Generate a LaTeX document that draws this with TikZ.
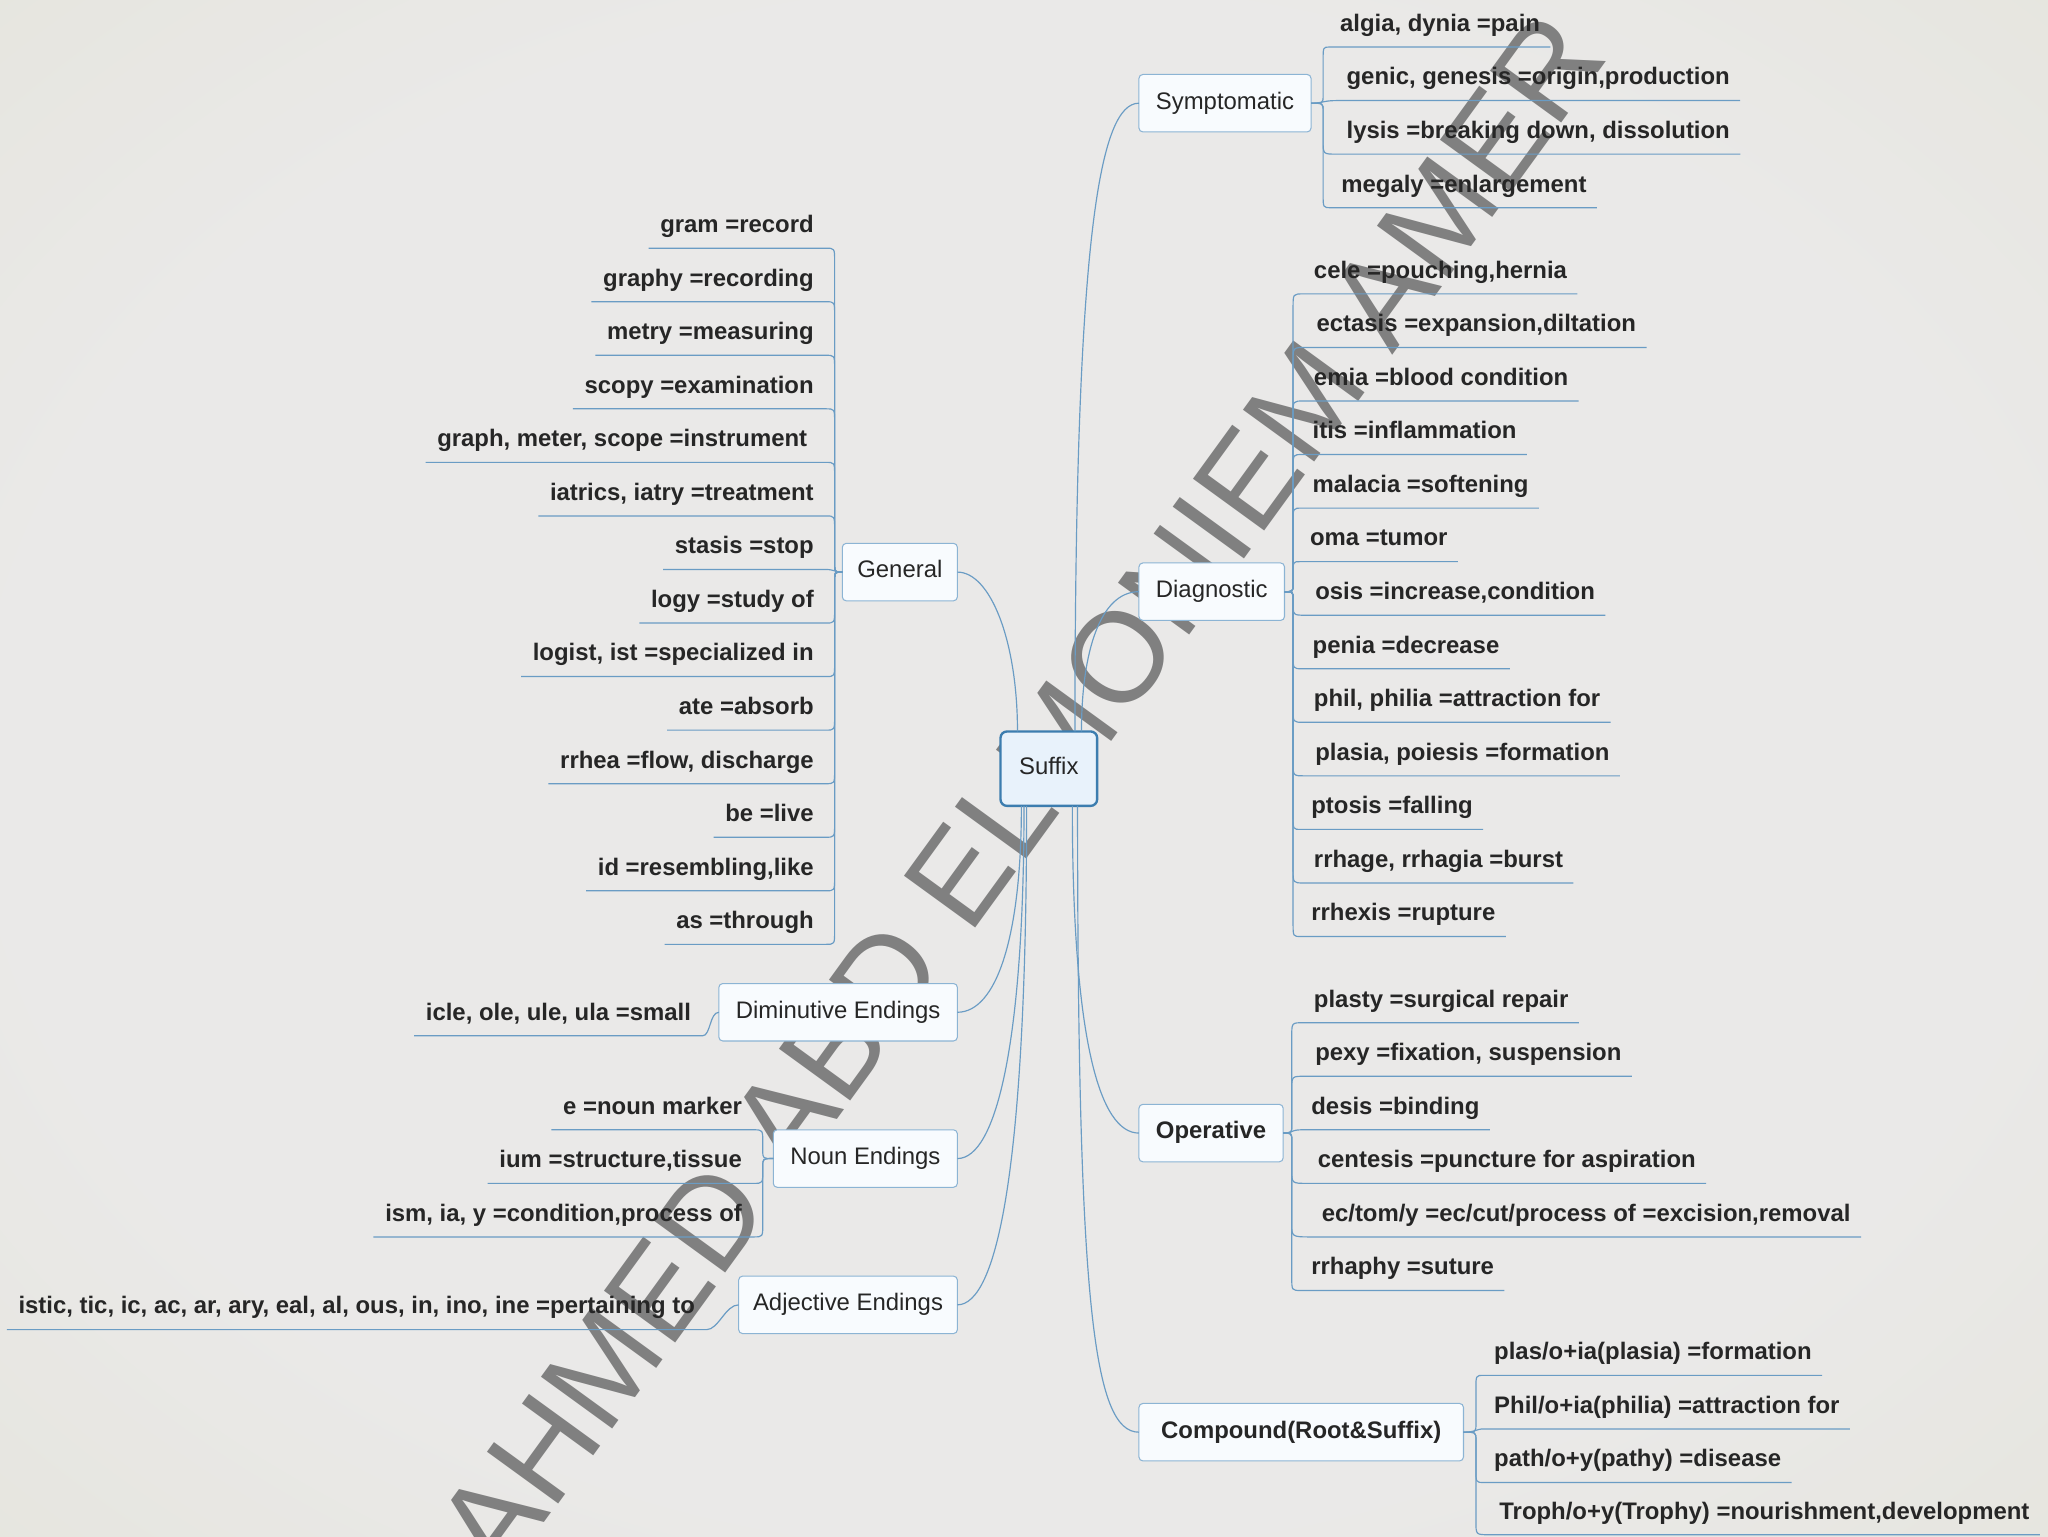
\documentclass[tikz,border=0pt]{standalone}
\usepackage{fontspec}
\setmainfont{Liberation Sans}
\usetikzlibrary{calc}
\pgfdeclarelayer{bg}
\pgfsetlayers{bg,main}
\definecolor{linecol}{RGB}{106,156,196}
\definecolor{boxline}{RGB}{140,180,212}
\definecolor{boxfill}{RGB}{248,251,254}
\definecolor{rootfill}{RGB}{232,242,251}
\definecolor{rootline}{RGB}{60,125,175}
\definecolor{txt}{RGB}{38,38,38}
\definecolor{wmcol}{RGB}{128,128,128}
\definecolor{bgc}{RGB}{234,233,232}
\definecolor{bge}{RGB}{225,225,211}
\definecolor{bgf}{RGB}{214,216,194}
\pgfdeclareradialshading{bgshade}{\pgfpoint{0bp}{0bp}}{color(0bp)=(bgc); color(25bp)=(bgc); color(50bp)=(bge); color(71bp)=(bgf)}
\newcommand\leaffont{\bfseries\fontsize{18.3}{20}\selectfont}
\newcommand\catfont{\fontsize{18.3}{20}\selectfont}
% right-side leaf link: parent, leaf, trunk coordinate, sign (1 above, -1 below)
\newcommand\rlink[4]{\draw[conn] (#1.east) .. controls (#1.east -| #3) .. ($(#1.east -| #3)+(0,{-6*(#4)})$) -- ($(#2.south west -| #3)+(0,{10*(#4)})$) .. controls (#2.south west -| #3) .. (#2.south west) -- (#2.south east);}
\newcommand\rlinkn[3]{\draw[conn] (#1.east) .. controls (#1.east -| #3) and (#2.south west -| #3) .. (#2.south west) -- (#2.south east);}
\newcommand\llink[4]{\draw[conn] (#1.west) .. controls (#1.west -| #3) .. ($(#1.west -| #3)+(0,{-6*(#4)})$) -- ($(#2.south east -| #3)+(0,{10*(#4)})$) .. controls (#2.south east -| #3) .. (#2.south east) -- (#2.south west);}
\newcommand\llinkn[3]{\draw[conn] (#1.west) .. controls (#1.west -| #3) and (#2.south east -| #3) .. (#2.south east) -- (#2.south west);}
\tikzset{
  leaf/.style={font=\leaffont, text=txt, inner xsep=8pt, inner ysep=8pt, text height=13pt, text depth=4pt, outer sep=0pt},
  leafL/.style={leaf, anchor=base east, inner xsep=9pt},
  leafR/.style={leaf, anchor=base west},
  catbox/.style={draw=boxline, fill=boxfill, rounded corners=3pt, line width=0.8pt, font=\catfont, text=txt, minimum height=44pt, inner xsep=13pt, inner ysep=0pt, text height=13pt, text depth=4pt, outer sep=0pt},
  rootbox/.style={draw=rootline, fill=rootfill, rounded corners=5pt, line width=1.8pt, font=\catfont, text=txt, minimum height=57pt, minimum width=74pt, inner sep=0pt, text height=13pt, text depth=4pt, outer sep=0pt},
  conn/.style={draw=linecol, line width=0.9pt},
  wm/.style={rotate=54, text=wmcol, font=\fontsize{98}{98}\selectfont, inner sep=0pt},
}
\begin{document}
\begin{tikzpicture}[x=1pt,y=-1pt]
\useasboundingbox (0,0) rectangle (1568,1176);
\begin{pgfonlayer}{bg}
\shade[shading=bgshade] (0,0) rectangle (1568,1176);
\node[wm] (wm) at (781,607) {AHMED ABD ELMONIEM AMER};
\end{pgfonlayer}

% root and categories
\node[rootbox] (suf) at (803,588.5) {Suffix};
\node[catbox, anchor=west] (sym) at (872,79) {Symptomatic};
\node[catbox, anchor=west] (diag) at (872,453) {Diagnostic};
\node[catbox, anchor=west, font=\catfont\bfseries] (op) at (872,867.5) {Operative};
\node[catbox, anchor=west, font=\catfont\bfseries, inner xsep=17pt] (comp) at (872,1096.5) {Compound(Root\&Suffix)};
\node[catbox, anchor=east, inner xsep=11.5pt] (gen) at (733,438) {General};
\node[catbox, anchor=east] (dim) at (733,775) {Diminutive Endings};
\node[catbox, anchor=east] (noun) at (733,887) {Noun Endings};
\node[catbox, anchor=east, inner xsep=11pt] (adj) at (733,999) {Adjective Endings};

% trunk coordinates
\coordinate (tS) at (1013,0);
\coordinate (tD) at (990,0);
\coordinate (tO) at (989,0);
\coordinate (tC) at (1130,0);
\coordinate (tG) at (639,0);
\coordinate (tN) at (584,0);

% Symptomatic leaves
\node[leafR] (s1) at (1018,24) {algia, dynia =pain};
\node[leafR] (s2) at (1023,65) {genic, genesis =origin,production};
\node[leafR] (s3) at (1023,106) {lysis =breaking down, dissolution};
\node[leafR] (s4) at (1019,147) {megaly =enlargement};

% Diagnostic leaves
\node[leafR] (d1) at (998,213) {cele =pouching,hernia};
\node[leafR] (d2) at (1000,254) {ectasis =expansion,diltation};
\node[leafR] (d3) at (998,295) {emia =blood condition};
\node[leafR] (d4) at (997,336) {itis =inflammation};
\node[leafR] (d5) at (997,377) {malacia =softening};
\node[leafR] (d6) at (995,418) {oma =tumor};
\node[leafR] (d7) at (999,459) {osis =increase,condition};
\node[leafR] (d8) at (997,500) {penia =decrease};
\node[leafR] (d9) at (998,541) {phil, philia =attraction for};
\node[leafR] (d10) at (999,582) {plasia, poiesis =formation};
\node[leafR] (d11) at (996,623) {ptosis =falling};
\node[leafR] (d12) at (998,664) {rrhage, rrhagia =burst};
\node[leafR] (d13) at (996,705) {rrhexis =rupture};

% Operative leaves
\node[leafR] (o1) at (998,771) {plasty =surgical repair};
\node[leafR] (o2) at (999,812) {pexy =fixation, suspension};
\node[leafR] (o3) at (996,853) {desis =binding};
\node[leafR] (o4) at (1001,894) {centesis =puncture for aspiration};
\node[leafR] (o5) at (1004,935) {ec/tom/y =ec/cut/process of =excision,removal};
\node[leafR] (o6) at (996,976) {rrhaphy =suture};

% Compound leaves
\node[leafR] (c1) at (1136,1041) {plas/o+ia(plasia) =formation};
\node[leafR] (c2) at (1136,1082) {Phil/o+ia(philia) =attraction for};
\node[leafR] (c3) at (1136,1123) {path/o+y(pathy) =disease};
\node[leafR] (c4) at (1140,1163) {Troph/o+y(Trophy) =nourishment,development};

% General leaves
\node[leafL] (g1) at (632,178) {gram =record};
\node[leafL] (g2) at (632,219) {graphy =recording};
\node[leafL] (g3) at (632,260) {metry =measuring};
\node[leafL] (g4) at (632,301) {scopy =examination};
\node[leafL] (g5) at (632,342) {graph, meter, scope =instrument\hspace*{5pt}};
\node[leafL] (g6) at (632,383) {iatrics, iatry =treatment};
\node[leafL] (g7) at (632,424) {stasis =stop};
\node[leafL] (g8) at (632,465) {logy =study of};
\node[leafL] (g9) at (632,506) {logist, ist =specialized in};
\node[leafL] (g10) at (632,547) {ate =absorb};
\node[leafL] (g11) at (632,588) {rrhea =flow, discharge};
\node[leafL] (g12) at (632,629) {be =live};
\node[leafL] (g13) at (632,670) {id =resembling,like};
\node[leafL] (g14) at (632,711) {as =through};

% Diminutive, Noun, Adjective leaves
\node[leafL] (m1) at (538,781) {icle, ole, ule, ula =small};
\node[leafL] (n1) at (577,853) {e =noun marker};
\node[leafL] (n2) at (577,894) {ium =structure,tissue};
\node[leafL] (n3) at (577,935) {ism, ia, y =condition,process of};
\node[leafL] (a1) at (541,1006) {istic, tic, ic, ac, ar, ary, eal, al, ous, in, ino, ine =pertaining to};

% root connectors
\draw[conn] ([xshift=20pt]suf.north) .. controls +(0,-380) and +(-30,0) .. (sym.west);
\draw[conn] ([xshift=25pt]suf.north) .. controls +(0,-60) and +(-30,0) .. (diag.west);
\draw[conn] ([xshift=18pt]suf.south) .. controls +(0,180) and +(-30,0) .. (op.west);
\draw[conn] ([xshift=22pt]suf.south) .. controls +(0,380) and +(-35,0) .. (comp.west);
\draw[conn] ([xshift=-24pt]suf.north) .. controls +(0,-70) and +(25,0) .. (gen.east);
\draw[conn] ([xshift=-21pt]suf.south) .. controls +(0,100) and +(30,0) .. (dim.east);
\draw[conn] ([xshift=-19pt]suf.south) .. controls +(0,180) and +(30,0) .. (noun.east);
\draw[conn] ([xshift=-17pt]suf.south) .. controls +(0,280) and +(30,0) .. (adj.east);

% Symptomatic links
\rlink{sym}{s1}{tS}{1}
\rlinkn{sym}{s2}{tS}
\rlink{sym}{s3}{tS}{-1}
\rlink{sym}{s4}{tS}{-1}

% Diagnostic links
\rlink{diag}{d1}{tD}{1}
\rlink{diag}{d2}{tD}{1}
\rlink{diag}{d3}{tD}{1}
\rlink{diag}{d4}{tD}{1}
\rlink{diag}{d5}{tD}{1}
\rlink{diag}{d6}{tD}{1}
\rlink{diag}{d7}{tD}{-1}
\rlink{diag}{d8}{tD}{-1}
\rlink{diag}{d9}{tD}{-1}
\rlink{diag}{d10}{tD}{-1}
\rlink{diag}{d11}{tD}{-1}
\rlink{diag}{d12}{tD}{-1}
\rlink{diag}{d13}{tD}{-1}

% Operative links
\rlink{op}{o1}{tO}{1}
\rlink{op}{o2}{tO}{1}
\rlinkn{op}{o3}{tO}
\rlink{op}{o4}{tO}{-1}
\rlink{op}{o5}{tO}{-1}
\rlink{op}{o6}{tO}{-1}

% Compound links
\rlink{comp}{c1}{tC}{1}
\rlinkn{comp}{c2}{tC}
\rlink{comp}{c3}{tC}{-1}
\rlink{comp}{c4}{tC}{-1}

% General links
\llink{gen}{g1}{tG}{1}
\llink{gen}{g2}{tG}{1}
\llink{gen}{g3}{tG}{1}
\llink{gen}{g4}{tG}{1}
\llink{gen}{g5}{tG}{1}
\llink{gen}{g6}{tG}{1}
\llinkn{gen}{g7}{tG}
\llink{gen}{g8}{tG}{-1}
\llink{gen}{g9}{tG}{-1}
\llink{gen}{g10}{tG}{-1}
\llink{gen}{g11}{tG}{-1}
\llink{gen}{g12}{tG}{-1}
\llink{gen}{g13}{tG}{-1}
\llink{gen}{g14}{tG}{-1}

% Noun links
\llink{noun}{n1}{tN}{1}
\llink{noun}{n2}{tN}{-1}
\llink{noun}{n3}{tN}{-1}

% Diminutive and Adjective links
\draw[conn] (dim.west) .. controls +(-7,0) and +(6,0) .. (m1.south east) -- (m1.south west);
\draw[conn] (adj.west) .. controls +(-10,0) and +(9,0) .. (a1.south east) -- (a1.south west);
\end{tikzpicture}
\end{document}
